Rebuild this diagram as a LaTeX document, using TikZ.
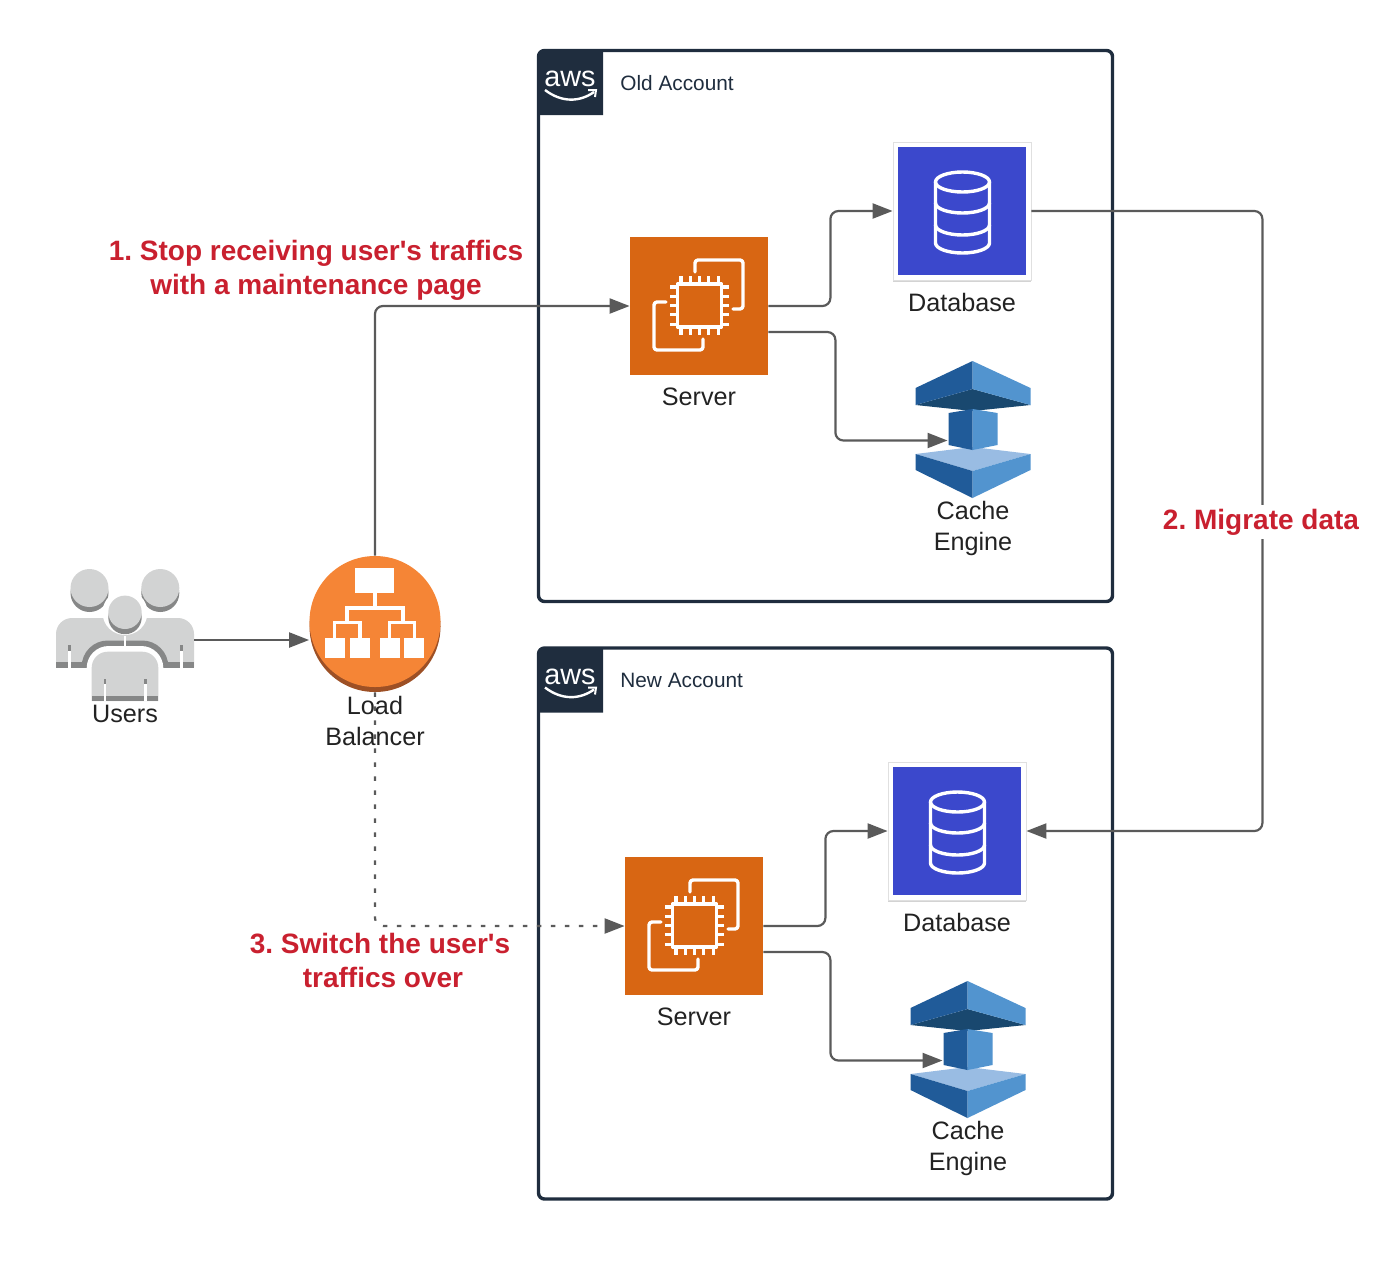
\documentclass[tikz,border=0pt]{standalone}
\usepackage{fontspec}
\setmainfont{Liberation Sans}[Ligatures=TeXOff]
\usepackage{xcolor}
\usetikzlibrary{arrows.meta,positioning,shapes,shadows}

\definecolor{awsdark}{HTML}{1F2D3E}
\definecolor{srvorange}{HTML}{D86613}
\definecolor{dbblue}{HTML}{3B48CC}
\definecolor{lborange}{HTML}{F58536}
\definecolor{lbbrown}{HTML}{9D5025}
\definecolor{cacheleft}{HTML}{205B99}
\definecolor{cacheright}{HTML}{5294CF}
\definecolor{cachedark}{HTML}{19486F}
\definecolor{cachelight}{HTML}{99BCE3}
\definecolor{usergrey}{HTML}{D2D3D3}
\definecolor{userdark}{HTML}{868787}
\definecolor{linegrey}{HTML}{5A5A5A}
\definecolor{stepred}{HTML}{C9202F}
\definecolor{labelgrey}{HTML}{222222}

\tikzset{
  conn/.style={draw=linegrey, line width=1.1pt, rounded corners=4pt, -{Triangle[length=10pt,width=7.5pt]}},
  dotconn/.style={conn, dash pattern=on 2.2pt off 4.8pt},
  lbl/.style={font=\fontsize{12.6}{15.5}\selectfont, text=labelgrey, align=center, inner sep=0pt},
  steplbl/.style={font=\fontsize{14}{17}\selectfont\bfseries\frenchspacing, text=stepred, align=center, inner sep=0pt},
  acctlbl/.style={font=\fontsize{10.4}{12}\selectfont, text=awsdark, anchor=west, inner sep=0pt},
  srvbox/.style={fill=srvorange, minimum size=69pt, inner sep=0pt},
  dbbox/.style={fill=white, draw=black!12, line width=.4pt, minimum size=69pt, inner sep=0pt, drop shadow={shadow xshift=0pt, shadow yshift=-0.8pt, opacity=.35}},
  iconline/.style={draw=white, line width=1.7pt, line join=round, line cap=round},
  pinline/.style={draw=white, line width=1.6pt},
  pics/acct/.style={code={
    \fill[awsdark] (539,115) [rounded corners=3pt] -- (539,50) [sharp corners] -- (603,50) -- (603,115) -- cycle;
    \draw[awsdark, line width=1.7pt, rounded corners=3pt] (538.5,50.5) rectangle (1112.5,601.5);
    \node[font=\fontsize{14.4}{15}\selectfont, text=white, inner sep=0pt] at (570,79) {aws};
    \draw[white, line width=1.2pt] (545,90) .. controls (562,103) and (580,102) .. (594,92);
    \draw[white, line width=1pt] (588,90) -- (596,90) -- (595,97);
    \node[acctlbl] at (620,83) {#1};
  }},
  pics/stack/.style={code={
    % server
    \node[srvbox] (-srv) at (699,306) {};
    \begin{scope}[shift={(630,237)}]
      \foreach \p in {-2,...,2} {
        \draw[pinline] ({69.5+\p*9.3},47) -- ++(0,-8);
        \draw[pinline] ({69.5+\p*9.3},90) -- ++(0,8);
        \draw[pinline] (47.5,{68.5+\p*9.3}) -- ++(-7.5,0);
        \draw[pinline] (91.5,{68.5+\p*9.3}) -- ++(7.5,0);
      }
      \draw[iconline] (47.5,47) rectangle (91.5,90);
      \draw[iconline, rounded corners=1.5pt] (65,35) -- (65,23) -- (113,23) -- (113,72) -- (103,72);
      \draw[iconline, rounded corners=1.5pt] (36,65) -- (24,65) -- (24,113) -- (73,113) -- (73,102);
    \end{scope}
    \node[lbl] (-srvlbl) at (699,397) {Server};
    % database
    \node[dbbox] (-db) at (962,211) {};
    \fill[dbblue] (898,147) rectangle (1026,275);
    \begin{scope}[shift={(893,142)}]
      \draw[iconline] (69.5,40) ellipse [x radius=27, y radius=10];
      \draw[iconline] (42.5,40) -- (42.5,101) arc[start angle=180, end angle=360, x radius=27, y radius=-10] -- (96.5,40);
      \draw[iconline] (42.5,61) arc[start angle=180, end angle=360, x radius=27, y radius=-10];
      \draw[iconline] (42.5,83) arc[start angle=180, end angle=360, x radius=27, y radius=-10];
    \end{scope}
    \node[lbl] (-dblbl) at (962,302.5) {Database};
    % cache
    \begin{scope}[shift={(915.5,361)}]
      \fill[cachelight] (0,93) -- (57,86) -- (115,93) -- (57,110) -- cycle;
      \fill[cacheleft] (0,93) -- (57,110) -- (57,137) -- (0,109) -- cycle;
      \fill[cacheright] (115,93) -- (57,110) -- (57,137) -- (115,109) -- cycle;
      \fill[cachedark] (0,44) -- (57,28) -- (115,44) -- (57,50) -- cycle;
      \fill[cacheleft] (57,0) -- (0,27) -- (0,44) -- (57,28) -- cycle;
      \fill[cacheright] (57,0) -- (115,27) -- (115,44) -- (57,28) -- cycle;
      \fill[cacheleft] (33,52) -- (57,48) -- (57,89) -- (33,84) -- cycle;
      \fill[cacheright] (82,52) -- (57,48) -- (57,89) -- (82,84) -- cycle;
      \coordinate (-cachein) at (32,79.5);
    \end{scope}
    \node[lbl] (-cachelbl) at (973,528) {Cache\\Engine};
  }}
}

\begin{document}
\begin{tikzpicture}[x=0.5pt,y=-0.5pt]
  \useasboundingbox (0,0) rectangle (1400,1269);

  \pic at (0,0) {acct={Old Account}};
  \pic at (0,597.5) {acct={New Account}};
  \pic (old) at (0,0) {stack};
  \pic (new) at (-5,620) {stack};

  % users
  \fill[userdark] (89.5,593) circle [radius=19];
  \fill[usergrey] (89.5,588) circle [radius=19];
  \fill[userdark] (160.3,593) circle [radius=19];
  \fill[usergrey] (160.3,588) circle [radius=19];
  \fill[usergrey] (56,667) [rounded corners=8pt] -- (56,618) -- (194,618) [sharp corners] -- (194,667) -- cycle;
  \fill[userdark] (56,662) rectangle (194,667.5);
  \fill[userdark] (68,645) rectangle (71,651);
  \fill[white] (68,651) rectangle (71,668);
  \fill[userdark] (180,645) rectangle (183,651);
  \fill[white] (180,651) rectangle (183,668);
  \fill[userdark] (81.7,667.5) [rounded corners=13pt] -- (81.7,640.5) -- (168.3,640.5) [sharp corners] -- (168.3,667.5) -- cycle;
  \fill[white] (86.7,669) [rounded corners=11pt] -- (86.7,646) -- (163.3,646) [sharp corners] -- (163.3,669) -- cycle;
  \fill[white] (123.7,636) rectangle (126.3,648);
  \fill[white] (125,612.5) circle [radius=22.5];
  \fill[userdark] (125,617.5) circle [radius=16.7];
  \fill[usergrey] (125,612.3) circle [radius=16.7];
  \fill[usergrey] (91.7,701) [rounded corners=8pt] -- (91.7,651.7) -- (158.3,651.7) [sharp corners] -- (158.3,701) -- cycle;
  \fill[userdark] (91.7,695.7) rectangle (158.3,701);
  \fill[userdark] (103.5,679) rectangle (106,684);
  \fill[white] (103.5,684) rectangle (106,701);
  \fill[userdark] (144,679) rectangle (146.5,684);
  \fill[white] (144,684) rectangle (146.5,701);
  \node[minimum width=69pt, minimum height=30pt, inner sep=0pt] (users) at (125,640) {};
  \node[lbl] (userslbl) at (125,714) {Users};

  % load balancer
  \node[circle, fill=lbbrown, minimum size=65.5pt, inner sep=0pt] (lbbase) at (375,626.5) {};
  \node[circle, fill=lborange, minimum size=65.5pt, inner sep=0pt] (lb) at (375,621.5) {};
  \fill[white] (355,568) rectangle (394,592.7);
  \draw[white, line width=1.7pt] (375,592) -- (375,608) (347,621) -- (347,608) -- (403,608) -- (403,621);
  \draw[white, line width=1.7pt] (334.5,638) -- (334.5,622.5) -- (360,622.5) -- (360,638);
  \draw[white, line width=1.7pt] (389.5,638) -- (389.5,622.5) -- (414.5,622.5) -- (414.5,638);
  \fill[white] (324.5,637.7) rectangle (345,658.3);
  \fill[white] (349.5,637.7) rectangle (369.5,658.3);
  \fill[white] (379.5,637.7) rectangle (399.5,658.3);
  \fill[white] (404,637.7) rectangle (424,658.3);

  % connectors
  \draw[conn] (users.east) -- (users.east -| lb.west);
  \draw[conn] (lb.north) |- (old-srv.west);
  \draw[dotconn] (lbbase.south) |- (new-srv.west);
  \draw[conn] (old-srv.east) -- ++(62,0) |- (old-db.west);
  \draw[conn] ([yshift=-13pt]old-srv.east) -- ++(67,0) |- (old-cachein);
  \draw[conn] (new-srv.east) -- ++(62,0) |- (new-db.west);
  \draw[conn] ([yshift=-13pt]new-srv.east) -- ++(67,0) |- (new-cachein);
  \draw[conn] (old-db.east) -- ++(231,0) |- (new-db.east);

  \node[lbl] (lblb) at (375,721) {Load\\Balancer};
  \node[steplbl] (stepone) at (316,270) {1. Stop receiving user's traffics\\with a maintenance page};
  \node[steplbl, fill=white, inner xsep=3pt, inner ysep=2pt] (steptwo) at (1261,522) {2. Migrate data};
  \node[steplbl] (stepthree) at (380,960) {3. Switch the user's\\\hspace*{3pt}traffics over};
\end{tikzpicture}
\end{document}
